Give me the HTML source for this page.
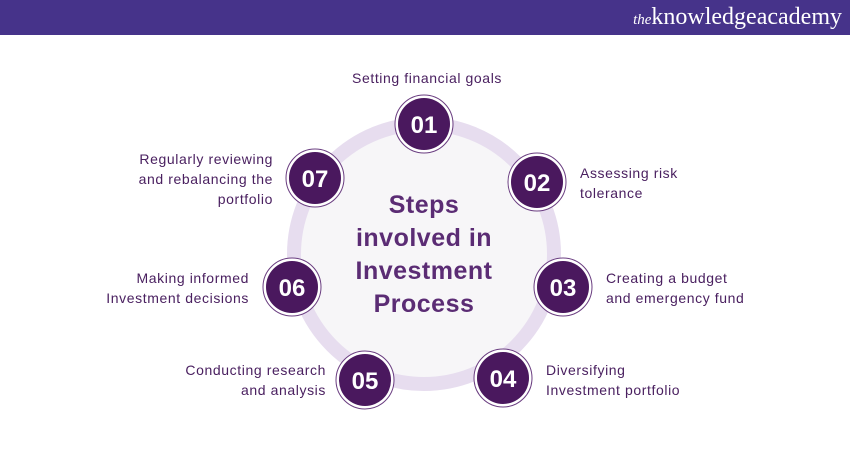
<!DOCTYPE html>
<html><head><style>
body{margin:0;width:850px;height:450px;background:#fff;overflow:hidden;font-family:"Liberation Sans",sans-serif;position:relative}
.hdr{position:absolute;left:0;top:0;width:850px;height:35px;background:#46338a}
.logo{position:absolute;right:8px;top:4px;color:#fff;font-family:"Liberation Serif",serif;font-size:24px}
.logo i{font-size:15px}
.lb{position:absolute;color:#4a2060;font-size:14px;line-height:20px;letter-spacing:0.6px;white-space:nowrap}
.r{text-align:right}
</style></head><body>
<div class="hdr"><div class="logo"><i>the</i>knowledge<b style="font-weight:normal">academy</b></div></div>
<svg width="850" height="450" style="position:absolute;left:0;top:0">
<circle cx="424" cy="254" r="130" fill="#f7f6f8" stroke="#e7ddef" stroke-width="14"/>
<g font-family="Liberation Sans" font-weight="bold" font-size="25" fill="#5b2c74" text-anchor="middle" letter-spacing="0.5">
<text x="424" y="213">Steps</text><text x="424" y="246">involved in</text><text x="424" y="279">Investment</text><text x="424" y="312">Process</text>
</g>
<g font-family="Liberation Sans" font-weight="bold" font-size="24" fill="#fff" text-anchor="middle">
<g><circle cx="424" cy="124" r="29" fill="#fff" stroke="#6a3d80" stroke-width="1"/><circle cx="424" cy="124" r="26" fill="#4a185e"/><text x="424" y="133">01</text></g>
<g><circle cx="537" cy="182" r="29" fill="#fff" stroke="#6a3d80" stroke-width="1"/><circle cx="537" cy="182" r="26" fill="#4a185e"/><text x="537" y="191">02</text></g>
<g><circle cx="563" cy="287" r="29" fill="#fff" stroke="#6a3d80" stroke-width="1"/><circle cx="563" cy="287" r="26" fill="#4a185e"/><text x="563" y="296">03</text></g>
<g><circle cx="503" cy="378" r="29" fill="#fff" stroke="#6a3d80" stroke-width="1"/><circle cx="503" cy="378" r="26" fill="#4a185e"/><text x="503" y="387">04</text></g>
<g><circle cx="365" cy="380" r="29" fill="#fff" stroke="#6a3d80" stroke-width="1"/><circle cx="365" cy="380" r="26" fill="#4a185e"/><text x="365" y="389">05</text></g>
<g><circle cx="292" cy="287" r="29" fill="#fff" stroke="#6a3d80" stroke-width="1"/><circle cx="292" cy="287" r="26" fill="#4a185e"/><text x="292" y="296">06</text></g>
<g><circle cx="315" cy="178" r="29" fill="#fff" stroke="#6a3d80" stroke-width="1"/><circle cx="315" cy="178" r="26" fill="#4a185e"/><text x="315" y="187">07</text></g>
</g>
</svg>
<div class="lb" style="left:327px;top:68px;width:200px;text-align:center">Setting financial goals</div>
<div class="lb" style="left:580px;top:163px">Assessing risk<br>tolerance</div>
<div class="lb" style="left:606px;top:268px">Creating a budget<br>and emergency fund</div>
<div class="lb" style="left:546px;top:360px">Diversifying<br>Investment portfolio</div>
<div class="lb r" style="left:100px;top:360px;width:226px">Conducting research<br>and analysis</div>
<div class="lb r" style="left:40px;top:268px;width:209px">Making informed<br>Investment decisions</div>
<div class="lb r" style="left:60px;top:149px;width:213px">Regularly reviewing<br>and rebalancing the<br>portfolio</div>
</body></html>
